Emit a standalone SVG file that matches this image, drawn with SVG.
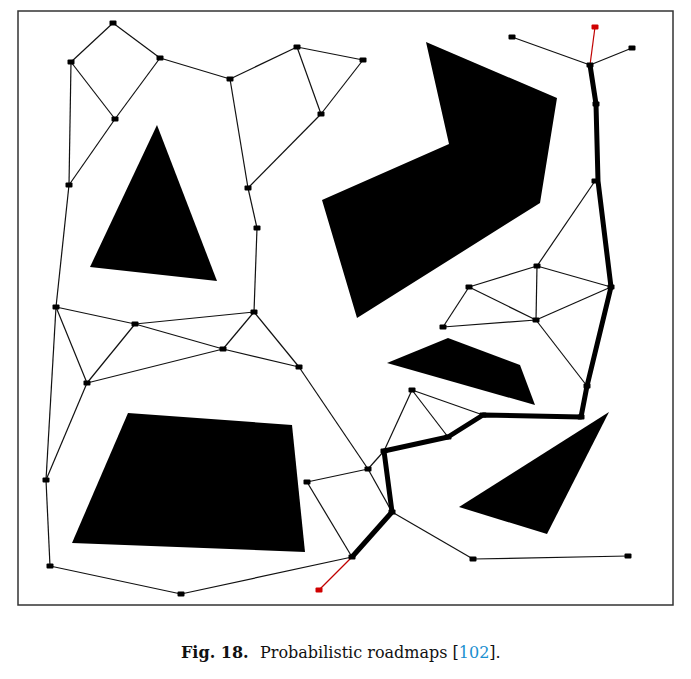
<svg xmlns="http://www.w3.org/2000/svg" width="691" height="679" viewBox="0 0 691 679">
<style>
.obs{fill:#000}
.e{stroke:#111;stroke-width:1.2;fill:none}
.path{stroke:#000;stroke-width:5;fill:none;stroke-linejoin:round}
.red{stroke:#c00000;stroke-width:1.2;fill:none}
.n{fill:#000}
.r{fill:#d00000}
.cap{font-family:"DejaVu Serif","Liberation Serif",serif;font-size:16px;fill:#111}
</style>
<defs>
<rect id="nd" x="-3.5" y="-2.5" width="7" height="5" rx="1"/>
</defs>
<rect x="0" y="0" width="691" height="679" fill="#fff"/>
<rect x="18" y="11" width="655" height="594" fill="none" stroke="#333" stroke-width="1.5"/>
<g id="obstacles">
<polygon class="obs" points="157,125 90,267 217,281"/>
<polygon class="obs" points="426,42 557,98 540,203 357,318 322,200 449,144"/>
<polygon class="obs" points="387,363 448,338 520,365 535,405"/>
<polygon class="obs" points="609,412 459,507 547,534"/>
<polygon class="obs" points="128,413 292,425 305,552 72,543"/>
</g>
<g id="connectors">
<line class="e" x1="113" y1="23" x2="71" y2="62"/>
<line class="e" x1="113" y1="23" x2="160" y2="58"/>
<line class="e" x1="71" y1="62" x2="69" y2="185"/>
<line class="e" x1="71" y1="62" x2="115" y2="119"/>
<line class="e" x1="160" y1="58" x2="115" y2="119"/>
<line class="e" x1="115" y1="119" x2="69" y2="185"/>
<line class="e" x1="160" y1="58" x2="230" y2="79"/>
<line class="e" x1="230" y1="79" x2="297" y2="47"/>
<line class="e" x1="297" y1="47" x2="363" y2="60"/>
<line class="e" x1="297" y1="47" x2="321" y2="114"/>
<line class="e" x1="321" y1="114" x2="363" y2="60"/>
<line class="e" x1="230" y1="79" x2="248" y2="188"/>
<line class="e" x1="321" y1="114" x2="248" y2="188"/>
<line class="e" x1="248" y1="188" x2="257" y2="228"/>
<line class="e" x1="257" y1="228" x2="254" y2="312"/>
<line class="e" x1="69" y1="185" x2="56" y2="307"/>
<line class="e" x1="56" y1="307" x2="135" y2="324"/>
<line class="e" x1="56" y1="307" x2="87" y2="383"/>
<line class="e" x1="56" y1="307" x2="46" y2="480"/>
<line class="e" x1="135" y1="324" x2="254" y2="312"/>
<line class="e" x1="135" y1="324" x2="223" y2="349"/>
<line class="e" x1="135" y1="324" x2="87" y2="383"/>
<line class="e" x1="254" y1="312" x2="223" y2="349"/>
<line class="e" x1="254" y1="312" x2="299" y2="367"/>
<line class="e" x1="223" y1="349" x2="299" y2="367"/>
<line class="e" x1="223" y1="349" x2="87" y2="383"/>
<line class="e" x1="87" y1="383" x2="46" y2="480"/>
<line class="e" x1="46" y1="480" x2="50" y2="566"/>
<line class="e" x1="50" y1="566" x2="181" y2="594"/>
<line class="e" x1="181" y1="594" x2="352" y2="557"/>
<line class="e" x1="307" y1="482" x2="352" y2="557"/>
<line class="e" x1="307" y1="482" x2="368" y2="469"/>
<line class="e" x1="299" y1="367" x2="368" y2="469"/>
<line class="e" x1="368" y1="469" x2="392" y2="512"/>
<line class="e" x1="368" y1="469" x2="384" y2="451"/>
<line class="e" x1="412" y1="390" x2="384" y2="451"/>
<line class="e" x1="412" y1="390" x2="448" y2="437"/>
<line class="e" x1="412" y1="390" x2="483" y2="415"/>
<line class="e" x1="392" y1="512" x2="473" y2="559"/>
<line class="e" x1="473" y1="559" x2="628" y2="556"/>
<line class="e" x1="595" y1="181" x2="537" y2="266"/>
<line class="e" x1="537" y1="266" x2="469" y2="287"/>
<line class="e" x1="537" y1="266" x2="611" y2="287"/>
<line class="e" x1="537" y1="266" x2="536" y2="320"/>
<line class="e" x1="469" y1="287" x2="536" y2="320"/>
<line class="e" x1="469" y1="287" x2="443" y2="327"/>
<line class="e" x1="443" y1="327" x2="536" y2="320"/>
<line class="e" x1="536" y1="320" x2="611" y2="287"/>
<line class="e" x1="536" y1="320" x2="587" y2="386"/>
<line class="e" x1="512" y1="37" x2="590" y2="65"/>
<line class="e" x1="590" y1="65" x2="632" y2="48"/>
<line class="red" x1="595" y1="27" x2="590" y2="65"/>
<line class="red" x1="352" y1="557" x2="319" y2="590"/>
<polyline class="path" points="590,65 596,104 598,181 611,287 587,386 581,417 483,415 448,437 384,451 392,512 352,557"/>
</g>
<g id="nodes">
<use href="#nd" class="n" x="113" y="23"/>
<use href="#nd" class="n" x="71" y="62"/>
<use href="#nd" class="n" x="160" y="58"/>
<use href="#nd" class="n" x="115" y="119"/>
<use href="#nd" class="n" x="69" y="185"/>
<use href="#nd" class="n" x="230" y="79"/>
<use href="#nd" class="n" x="297" y="47"/>
<use href="#nd" class="n" x="321" y="114"/>
<use href="#nd" class="n" x="363" y="60"/>
<use href="#nd" class="n" x="248" y="188"/>
<use href="#nd" class="n" x="257" y="228"/>
<use href="#nd" class="n" x="56" y="307"/>
<use href="#nd" class="n" x="135" y="324"/>
<use href="#nd" class="n" x="254" y="312"/>
<use href="#nd" class="n" x="223" y="349"/>
<use href="#nd" class="n" x="299" y="367"/>
<use href="#nd" class="n" x="87" y="383"/>
<use href="#nd" class="n" x="46" y="480"/>
<use href="#nd" class="n" x="50" y="566"/>
<use href="#nd" class="n" x="181" y="594"/>
<use href="#nd" class="n" x="307" y="482"/>
<use href="#nd" class="n" x="352" y="557"/>
<use href="#nd" class="n" x="368" y="469"/>
<use href="#nd" class="n" x="384" y="451"/>
<use href="#nd" class="n" x="392" y="512"/>
<use href="#nd" class="n" x="412" y="390"/>
<use href="#nd" class="n" x="448" y="437"/>
<use href="#nd" class="n" x="483" y="415"/>
<use href="#nd" class="n" x="581" y="417"/>
<use href="#nd" class="n" x="587" y="386"/>
<use href="#nd" class="n" x="611" y="287"/>
<use href="#nd" class="n" x="536" y="320"/>
<use href="#nd" class="n" x="537" y="266"/>
<use href="#nd" class="n" x="469" y="287"/>
<use href="#nd" class="n" x="443" y="327"/>
<use href="#nd" class="n" x="595" y="181"/>
<use href="#nd" class="n" x="596" y="104"/>
<use href="#nd" class="n" x="590" y="65"/>
<use href="#nd" class="n" x="512" y="37"/>
<use href="#nd" class="n" x="632" y="48"/>
<use href="#nd" class="n" x="473" y="559"/>
<use href="#nd" class="n" x="628" y="556"/>
<use href="#nd" class="r" x="595" y="27"/>
<use href="#nd" class="r" x="319" y="590"/>
</g>
<text class="cap" x="181" y="658"><tspan font-weight="bold">Fig. 18.</tspan><tspan x="260">Probabilistic roadmaps [</tspan><tspan fill="#1a8fd0">102</tspan><tspan>].</tspan></text>
</svg>
